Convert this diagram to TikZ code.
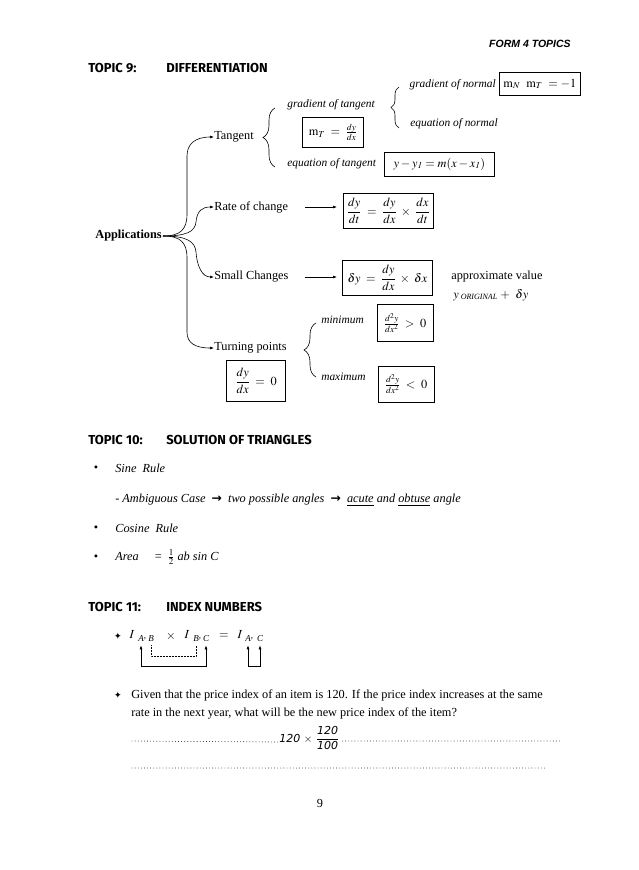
\documentclass[tikz,border=0pt]{standalone}
\usepackage{amsmath}
\usepackage{mathptmx}
\usepackage{fontspec}
\setmainfont{Liberation Serif}
\newfontfamily\headfont{Liberation Sans}
\newfontfamily\topicfont{Fira Sans}
\newfontfamily\symfont{DejaVu Sans}
\usetikzlibrary{arrows.meta,decorations.pathreplacing}

\begin{document}
\fontsize{12.3}{14.5}\selectfont
\begin{tikzpicture}[x=1pt, y=-1pt, line width=0.6pt,
	every node/.style={inner sep=0pt},
	topic/.style={anchor=west, font=\topicfont\bfseries\fontsize{13}{15}\selectfont},
	lab/.style={font=\fontsize{11.4}{13}\selectfont\itshape},
	mbox/.style={draw, line width=0.8pt},
	curly/.style={decorate, decoration={brace, amplitude=#1}, line width=0.6pt},
	curly/.default=12pt,
	arr/.style={-{Latex[length=4pt,width=3pt]}, line width=0.6pt},
	sub/.style={font=\fontsize{9}{10}\selectfont\itshape},
	dots/.style={line width=0.9pt, dash pattern=on 0pt off 3.1pt, line cap=round}]
	
	\path[fill=white] (0,0) rectangle (638,870);
	\useasboundingbox (0,0) rectangle (638,870);
	
	% ----- Kopfzeile -----
	\node[anchor=east, font=\headfont\bfseries\itshape\fontsize{10.5}{12}\selectfont] (form) at (571,44) {FORM 4 TOPICS};
	
	% ----- Topic 9 -----
	\node[topic] (t9) at (88,68) {TOPIC 9:};
	\node[topic] (t9name) at (166,68) {DIFFERENTIATION};
	
	% Baum
	\node[anchor=east, inner sep=1pt, font=\bfseries] (app) at (163,236) {Applications};
	\node[anchor=west] (tangent) at (214,137) {Tangent};
	\node[anchor=west] (rate) at (214,207) {Rate of change};
	\node[anchor=west] (small) at (214,277) {Small Changes};
	\node[anchor=west] (turn) at (214,348) {Turning points};
	
	\draw[arr] (app.east) .. controls (181,236) and (187,229) .. (187,214) -- (187,156) .. controls (187,144) and (195,137) .. (tangent.west);
	\draw[arr] (app.east) .. controls (186,236) and (195,232) .. (196,222) .. controls (197,211) and (202,207) .. (rate.west);
	\draw[arr] (app.east) .. controls (186,236) and (195,241) .. (196,252) .. controls (197,266) and (202,277) .. (small.west);
	\draw[arr] (app.east) .. controls (181,236) and (187,243) .. (187,258) -- (187,332) .. controls (187,343) and (195,348) .. (turn.west);
	
	% Tangent
	\draw[curly] (275,167) -- (275,108);
	\node[lab, anchor=west] (gtan) at (287,105) {gradient of tangent};
	\node[mbox, minimum width=61, minimum height=30] (mt) at (333,132) {$\mathrm{m}_T\;=\;\tfrac{dy}{dx}$};
	\node[lab, anchor=west] (etan) at (287,164) {equation of tangent};
	\node[mbox, minimum width=110, minimum height=24, anchor=west] (eqt) at (384,164) {$y - y_{\mathit 1} = m(x - x_{\mathit 1})$};
	
	% Normal
	\draw[curly=8pt] (399,128) -- (399,87);
	\node[lab, anchor=east] (gnor) at (496,85) {gradient of normal};
	\node[mbox, minimum width=81, minimum height=23, anchor=west] (mn) at (499,84) {$\mathrm{m}_N\ \ \mathrm{m}_T\ =-1$};
	\node[lab, anchor=west] (enor) at (410,124) {equation of normal};
	
	% Rate of change
	\node[mbox, minimum width=90, minimum height=35, anchor=west] (rbox) at (343,211) {$\dfrac{dy}{dt}\;=\;\dfrac{dy}{dx}\;\times\;\dfrac{dx}{dt}$};
	\draw[arr, shorten <=17pt, shorten >=6pt] (rate.east) -- (rate.east -| rbox.west);
	
	% Small Changes
	\node[mbox, minimum width=90, minimum height=35, anchor=west] (sbox) at (342,278) {$\delta y\;=\;\dfrac{dy}{dx}\;\times\;\delta x$};
	\draw[arr, shorten <=16pt, shorten >=5pt] (small.east) -- (small.east -| sbox.west);
	\node[anchor=west] (approx) at (451,277) {approximate value};
	\node[anchor=west] (yorig) at (453,295) {$y$\,\raisebox{-1.5pt}{\fontsize{8}{9}\selectfont\itshape ORIGINAL} $+\;\;\delta y$};
	
	% Turning points
	\draw[curly] (316,377) -- (316,323);
	\node[lab, anchor=west] (mini) at (321,320) {minimum};
	\node[mbox, minimum width=56, minimum height=37] (minbox) at (405,323) {$\frac{d^2y}{dx^2}\;>\;0$};
	\node[lab, anchor=west] (maxi) at (321,377) {maximum};
	\node[mbox, minimum width=56, minimum height=36] (maxbox) at (406,384) {$\frac{d^2y}{dx^2}\;<\;0$};
	\node[mbox, minimum width=59, minimum height=41] (zbox) at (256,381) {$\dfrac{dy}{dx}\;=\;0$};
	
	% ----- Topic 10 -----
	\node[topic] (t10) at (88,440) {TOPIC 10:};
	\node[topic] (t10name) at (166,440) {SOLUTION OF TRIANGLES};
	
	\node (bul1) at (96,469) {•};
	\node[anchor=west, font=\itshape] (sine) at (115,468) {Sine\ \ Rule};
	\node[anchor=west, font=\itshape] (amb) at (115,500) {- Ambiguous Case\ \ {\symfont\bfseries\upshape →}\ \ two possible angles\ \ {\symfont\bfseries\upshape →}\ \ \underline{acute} and \underline{obtuse} angle};
	\node (bul2) at (96,529) {•};
	\node[anchor=west, font=\itshape] (cos) at (115,528) {Cosine\ \ Rule};
	\node (bul3) at (96,558) {•};
	\node[anchor=west, font=\itshape] (area) at (115,557) {Area\quad\ =\ \,$\frac{1}{2}$ ab sin C};
	
	% ----- Topic 11 -----
	\node[topic] (t11) at (88,607) {TOPIC 11:};
	\node[topic] (t11name) at (166,607) {INDEX NUMBERS};
	
	% Formel
	\node[font=\symfont\fontsize{9}{10}\selectfont] (star1) at (118,636) {✦};
	\node (i1) at (132,635) {$I$};
	\node[sub] (sa1) at (141,639) {A};
	\node[sub] (cm1) at (145,639) {,};
	\node[sub] (sb1) at (151,639) {B};
	\node (times1) at (171,636) {$\times$};
	\node (i2) at (187,635) {$I$};
	\node[sub] (sb2) at (196,639) {B};
	\node[sub] (cm2) at (200,639) {,};
	\node[sub] (sc2) at (206,639) {C};
	\node (eq1) at (224,636) {$=$};
	\node (i3) at (240,635) {$I$};
	\node[sub] (sa3) at (248,639) {A};
	\node[sub] (cm3) at (252,639) {,};
	\node[sub] (sc3) at (260,639) {C};
	
	% Pfeile
	\draw[{Latex[length=4pt,width=3pt]}-{Latex[length=4pt,width=3pt]}, shorten <=3pt, shorten >=3pt] (sa1.south) -- ++(0,24) -| (sc2.south);
	\draw[densely dotted, line width=0.5pt, shorten <=3pt, shorten >=3pt] (sb1.south) -- ++(0,14) -| (sb2.south);
	\draw[{Latex[length=4pt,width=3pt]}-{Latex[length=4pt,width=3pt]}, shorten <=3pt, shorten >=3pt] (sa3.south) -- ++(0,24) -| (sc3.south);
	
	% Frage
	\node[font=\symfont\fontsize{9}{10}\selectfont] (star2) at (118,695) {✦};
	\node[anchor=west] (q1) at (131,695) {Given that the price index of an item is 120. If the price index increases at the same};
	\node[anchor=west] (q2) at (131,713) {rate in the next year, what will be the new price index of the item?};
	
	\node[anchor=base west, font=\symfont\itshape\fontsize{11}{12}\selectfont] (calc) at (279,742) {120 $\times$ $\dfrac{\hbox{\symfont\itshape 120}}{\hbox{\symfont\itshape 100}}$};
	\draw[dots] (132,741) -- (calc.base west);
	\draw[dots] (calc.base east) ++(3,-1) -- (560,741);
	\draw[dots] (132,768) -- (547,768);
	
	% Seitenzahl
	\node (pnum) at (320,803) {9};
	
\end{tikzpicture}
\end{document}
